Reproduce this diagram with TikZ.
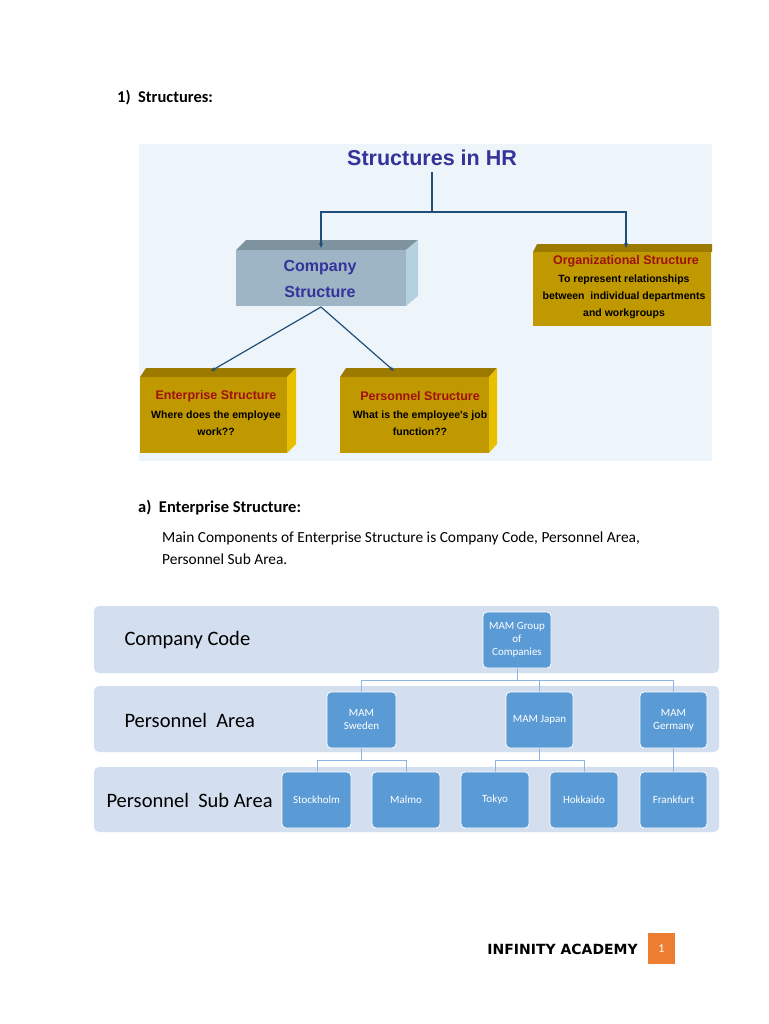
\documentclass[tikz,border=0pt]{standalone}
\usepackage{fontspec}
\setmainfont{Carlito}
\newfontfamily\arialf{Liberation Sans}
\newfontfamily\dejaf{DejaVu Sans}
\usetikzlibrary{arrows.meta}
\definecolor{panel}{HTML}{EEF5FA}
\definecolor{navy}{HTML}{333399}
\definecolor{gold}{HTML}{C09900}
\definecolor{goldtop}{HTML}{9C7A00}
\definecolor{goldside}{HTML}{E8C000}
\definecolor{cfront}{HTML}{9DB5C5}
\definecolor{ctop}{HTML}{7F939E}
\definecolor{cside}{HTML}{B5D1E0}
\definecolor{darkred}{HTML}{A01010}
\definecolor{band}{HTML}{D3DEEE}
\definecolor{bbox}{HTML}{5B9BD5}
\definecolor{bline}{HTML}{8EB4E3}
\definecolor{conn}{HTML}{1F4E79}
\definecolor{orng}{HTML}{ED7D31}
\tikzset{
  hrline/.style={conn, line width=1.2pt},
  hrarrow/.style={hrline, -{Stealth[length=5pt,width=4pt]}},
  bluebox/.style={fill=bbox, draw=white, line width=0.8pt, rounded corners=4pt, text=white, font=\fontsize{11}{13}\selectfont, align=center, inner sep=0pt},
  bandstyle/.style={fill=band, rounded corners=5pt},
  bandlabel/.style={anchor=west, font=\fontsize{20.5}{24}\selectfont},
  orgline/.style={bline, line width=0.8pt},
  goldtitle/.style={text=darkred, font=\arialf\bfseries\fontsize{12.5}{14}\selectfont},
  goldtext/.style={font=\arialf\bfseries\fontsize{10.5}{17}\selectfont, align=center},
}
\begin{document}
\begin{tikzpicture}[x=1pt,y=-1pt]
\useasboundingbox (0,0) rectangle (768,1024);
\fill[white] (0,0) rectangle (768,1024);

\node[anchor=west, inner sep=0pt, font=\bfseries\fontsize{16.5}{18}\selectfont] (h1) at (117,98) {1)\ \ Structures:};

% HR panel
\fill[panel] (139,144) rectangle (712,461);
\node[text=navy, font=\arialf\bfseries\fontsize{21.5}{24}\selectfont] (title) at (432,158) {Structures in HR};

% Company Structure 3D box
\fill[ctop] (236,250) -- (246,240) -- (418,240) -- (406,250) -- cycle;
\fill[cside] (406,250) -- (418,240) -- (418,296) -- (406,306) -- cycle;
\fill[cfront] (236,250) rectangle (406,306);
\node[text=navy, font=\arialf\bfseries\fontsize{16}{26}\selectfont, align=center] (comp) at (320,279) {Company\\Structure};

% Organizational Structure
\fill[goldtop] (533,252) -- (537,244) -- (712,244) -- (712,252) -- cycle;
\fill[gold] (533,252) rectangle (711,326);
\node[goldtitle] (orgt) at (626,261) {Organizational Structure};
\node[goldtext] (orgx) at (624,297) {To represent relationships\\between\ \ individual departments\\and workgroups};

% Enterprise Structure
\fill[goldtop] (140,377) -- (146,368) -- (296,368) -- (287,377) -- cycle;
\fill[goldside] (287,377) -- (296,368) -- (296,444) -- (287,453) -- cycle;
\fill[gold] (140,377) rectangle (287,453);
\node[goldtitle] (entt) at (216,396) {Enterprise Structure};
\node[goldtext] (entx) at (216,423) {Where does the employee\\work??};

% Personnel Structure
\fill[goldtop] (340,377) -- (346,368) -- (497,368) -- (489,377) -- cycle;
\fill[goldside] (489,377) -- (497,368) -- (497,444) -- (489,453) -- cycle;
\fill[gold] (340,377) rectangle (489,453);
\node[goldtitle] (pert) at (420,396) {Personnel Structure};
\node[goldtext] (perx) at (420,423) {What is the employee's job\\function??};

% connectors
\coordinate (t0) at (432,172);
\coordinate (tj) at (432,212);
\coordinate (ca) at (321,248);
\coordinate (oa) at (626,248);
\coordinate (cb) at (321,307);
\coordinate (ea) at (211,371);
\coordinate (pa) at (394,371);
\draw[hrline] (t0) -- (tj);
\draw[hrarrow] (tj) -| (ca);
\draw[hrarrow] (tj) -| (oa);
\draw[hrarrow] (cb) -- (ea);
\draw[hrarrow] (cb) -- (pa);

% a) section
\node[anchor=west, inner sep=0pt, font=\bfseries\fontsize{16.5}{18}\selectfont] (h2) at (138,508) {a)\ \ Enterprise Structure:};
\node[anchor=west, inner sep=0pt, font=\fontsize{15.4}{18}\selectfont] (p1) at (162,538) {Main Components of Enterprise Structure is Company Code, Personnel Area,};
\node[anchor=west, inner sep=0pt, font=\fontsize{15.4}{18}\selectfont] (p2) at (162,559) {Personnel Sub Area.};

% bands
\fill[bandstyle] (94,606) rectangle (719,673);
\fill[bandstyle] (94,686) rectangle (719,752);
\fill[bandstyle] (94,767) rectangle (719,832);
\node[bandlabel] (l1) at (121,640) {Company Code};
\node[bandlabel] (l2) at (121,720) {Personnel\ \ Area};
\node[bandlabel] (l3) at (103,800) {Personnel\ \ Sub Area};

% org chart connectors
\coordinate (j1) at (517,680);
\coordinate (j2) at (361,760);
\coordinate (j3) at (539,760);
\draw[orgline] (517,668) -- (j1);
\draw[orgline] (361,680) -- (673,680);
\draw[orgline] (361,680) -- (361,692);
\draw[orgline] (539,680) -- (539,692);
\draw[orgline] (673,680) -- (673,692);
\draw[orgline] (361,748) -- (j2);
\draw[orgline] (317,760) -- (406,760);
\draw[orgline] (317,760) -- (317,772);
\draw[orgline] (406,760) -- (406,772);
\draw[orgline] (539,748) -- (j3);
\draw[orgline] (495,760) -- (584,760);
\draw[orgline] (495,760) -- (495,772);
\draw[orgline] (584,760) -- (584,772);
\draw[orgline] (673,748) -- (673,772);

% blue boxes
\node[bluebox, minimum width=68pt, minimum height=56pt] (grp) at (517,640) {MAM Group\\of\\Companies};
\node[bluebox, minimum width=69pt, minimum height=56pt] (swe) at (361.5,720) {MAM\\Sweden};
\node[bluebox, minimum width=67pt, minimum height=56pt] (jap) at (539.5,720) {MAM Japan};
\node[bluebox, minimum width=67pt, minimum height=56pt] (ger) at (673.5,720) {MAM\\Germany};
\node[bluebox, minimum width=69pt, minimum height=56pt] (sto) at (316.5,800) {Stockholm};
\node[bluebox, minimum width=68pt, minimum height=56pt] (mal) at (406,800) {Malmo};
\node[bluebox, minimum width=68pt, minimum height=56pt] (tok) at (495,800) {Tokyo};
\node[bluebox, minimum width=68pt, minimum height=56pt] (hok) at (584,800) {Hokkaido};
\node[bluebox, minimum width=67pt, minimum height=56pt] (fra) at (673.5,800) {Frankfurt};

% footer
\node[anchor=east, inner sep=0pt, font=\dejaf\bfseries\fontsize{14}{16}\selectfont] (foot) at (638,949) {INFINITY ACADEMY};
\node[fill=orng, text=white, minimum width=27pt, minimum height=31pt, inner sep=0pt, font=\fontsize{12}{14}\selectfont] (pg) at (661.5,948.5) {1};
\end{tikzpicture}
\end{document}
